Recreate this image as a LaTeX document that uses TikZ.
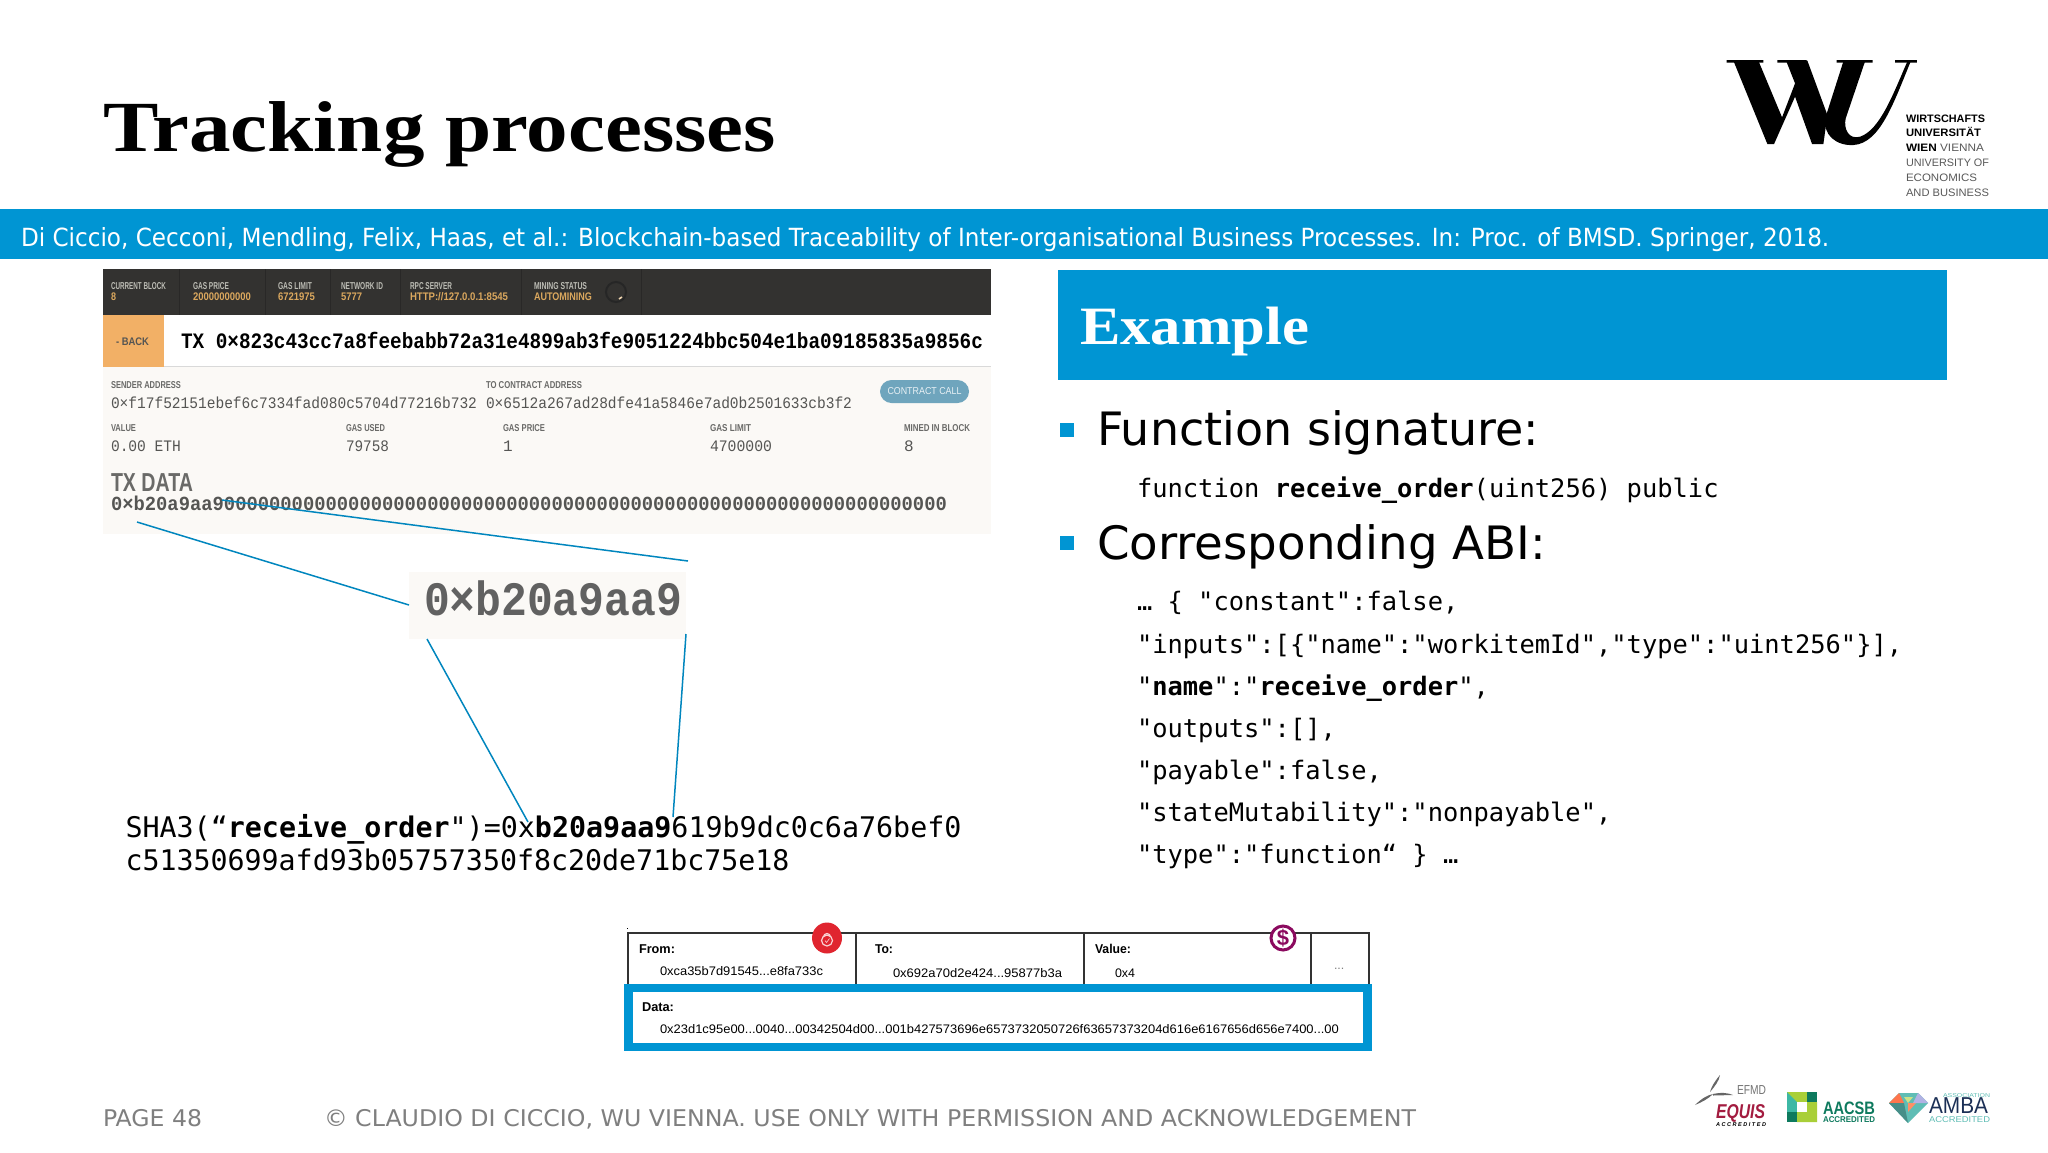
\documentclass[tikz,border=0pt]{standalone}
\usepackage{fontspec}
\usepackage{graphicx}
\setmainfont{DejaVu Sans}
\newfontfamily\serifb{Liberation Serif}
\newfontfamily\lsans{Liberation Sans}
\newfontfamily\lmono{Liberation Mono}
\newfontfamily\dmono{DejaVu Sans Mono}
\newcommand\fs[1]{\fontsize{#1pt}{#1pt}\selectfont}
\newcommand\fitw[2]{\resizebox{\dimexpr #1pt/2\relax}{\height}{#2}}
\definecolor{wublue}{HTML}{0095D3}
\definecolor{pagebg}{HTML}{FBF9F6}
\definecolor{hdr}{HTML}{333230}
\definecolor{hlab}{HTML}{BDBDB5}
\definecolor{hval}{HTML}{DBA85E}
\definecolor{backbox}{HTML}{F2B066}
\definecolor{pill}{HTML}{6FA5BD}
\definecolor{slab}{HTML}{6A6A68}
\definecolor{stxt}{HTML}{555553}
\definecolor{foot}{HTML}{7F7F7F}
\definecolor{eqred}{HTML}{A31C40}
\definecolor{badgered}{HTML}{E0252F}
\definecolor{badgepurple}{HTML}{8B0A5F}
\definecolor{aagreen}{HTML}{0E7A5E}
\definecolor{aateal}{HTML}{3DB8A5}
\definecolor{aalime}{HTML}{A9CF38}
\definecolor{ambanavy}{HTML}{1B2F55}
\definecolor{ambateal}{HTML}{5FBDB5}
\tikzset{
  txt/.style={inner sep=0pt,outer sep=0pt,anchor=base west},
  hlabel/.style={txt,text=hlab,font=\lsans\bfseries\fs{5}},
  hvalue/.style={txt,text=hval,font=\lsans\bfseries\fs{5.5}},
  slabel/.style={txt,text=slab,font=\lsans\bfseries\fs{5}},
  svalue/.style={txt,text=stxt,font=\lmono\fs{8}},
  codeline/.style={txt,text=black,font=\dmono\fs{12.71}},
  bullettext/.style={txt,text=black,font=\fs{23}},
  bulletbox/.style={fill=wublue,draw=none,inner sep=0pt,minimum size=7pt},
  cellhead/.style={txt,text=black,font=\lsans\bfseries\fs{6.4}},
  cellval/.style={txt,text=black,font=\lsans\fs{6.2}},
  logotxt/.style={txt,text=black,font=\lsans\bfseries\fs{5.4}},
  logogray/.style={txt,text=black!65,font=\lsans\fs{5.4}},
  zoomline/.style={draw=wublue!90!black,line width=0.75pt},
  foottext/.style={txt,text=foot,font=\fs{11.5}},
}
\begin{document}
\begin{tikzpicture}[x=0.5pt,y=-0.5pt]
\useasboundingbox (0,0) rectangle (2048,1152);
\fill[white] (0,0) rectangle (2048,1152);

% title and band
\node[txt] (title) at (103,151) {\fitw{673}{\serifb\bfseries\fs{36}Tracking processes}};
\fill[wublue] (0,209) rectangle (2048,259);
\node[txt,text=white] (cite) at (21,246.5) {\fitw{1808}{\fs{12.5}Di Ciccio, Cecconi, Mendling, Felix, Haas, et al.: Blockchain-based Traceability of Inter-organisational Business Processes. In: Proc. of BMSD. Springer, 2018.}};

% WU logo
\begin{scope}[shift={(1680,40)},x=0.1667pt,y=-0.1667pt]
 \fill[black] (140,60) rectangle (250,68) (292,60) rectangle (380,68) (470,60) rectangle (578,68) (645,60) rectangle (710,68);
 \fill[black] (160,62) -- (235,62) -- (306,232) -- (345,130) -- (318,62) -- (382,62) -- (442,225) -- (430,312) -- (396,312) -- (345,170) -- (282,312) -- (262,312) -- cycle;
 \fill[black] (490,64) -- (437,230) .. controls (425,285) and (470,318) .. (520,315) .. controls (600,310) and (640,190) .. (692,64) -- (682,64) .. controls (640,160) and (600,270) .. (540,290) .. controls (505,300) and (490,265) .. (497,235) -- (555,64) -- cycle;
\end{scope}
\node[logotxt] (wu1) at (1906,122) {\fitw{79}{WIRTSCHAFTS}};
\node[logotxt] (wu2) at (1906,136.5) {\fitw{75}{UNIVERSITÄT}};
\node[logotxt] (wu3) at (1906,151.5) {\fitw{78}{WIEN {\mdseries\color{black!65} VIENNA}}};
\node[logogray] (wu4) at (1906,166.5) {\fitw{83}{UNIVERSITY OF}};
\node[logogray] (wu5) at (1906,181) {\fitw{71}{ECONOMICS}};
\node[logogray] (wu6) at (1906,196) {\fitw{83}{AND BUSINESS}};

% screenshot
\fill[pagebg] (103,367) rectangle (991,534);
\fill[hdr] (103,269) rectangle (991,315);
\fill[white] (103,315) rectangle (991,367);
\fill[black!15] (103,366) rectangle (991,367);
\fill[backbox] (103,315) rectangle (164,367);
\foreach \xx in {179,265,330,400,521,641} \draw[hdr!80!black,line width=0.4pt] (\xx,269) -- (\xx,315);
\node[hlabel] (h1) at (111,289) {\fitw{55}{CURRENT BLOCK}};
\node[hvalue] (h1v) at (111,300) {\fitw{5}{8}};
\node[hlabel] (h2) at (193,289) {\fitw{36}{GAS PRICE}};
\node[hvalue] (h2v) at (193,300) {\fitw{58}{20000000000}};
\node[hlabel] (h3) at (278,289) {\fitw{34}{GAS LIMIT}};
\node[hvalue] (h3v) at (278,300) {\fitw{37}{6721975}};
\node[hlabel] (h4) at (341,289) {\fitw{42}{NETWORK ID}};
\node[hvalue] (h4v) at (341,300) {\fitw{21}{5777}};
\node[hlabel] (h5) at (410,289) {\fitw{42}{RPC SERVER}};
\node[hvalue] (h5v) at (410,300) {\fitw{98}{HTTP://127.0.0.1:8545}};
\node[hlabel] (h6) at (534,289) {\fitw{53}{MINING STATUS}};
\node[hvalue] (h6v) at (534,300) {\fitw{58}{AUTOMINING}};
\draw[black!85,line width=1pt] (616,292) circle (10);
\draw[hval!50!white,line width=0.8pt] (619,299) -- (622,297);
\node[txt,text=stxt,font=\lsans\bfseries\fs{5.5}] (back) at (116,345) {\fitw{33}{- BACK}};
\node[txt,text=black,font=\lmono\bfseries\fs{11}] (txid) at (181,348) {\fitw{802}{TX 0×823c43cc7a8feebabb72a31e4899ab3fe9051224bbc504e1ba09185835a9856c}};
\node[slabel] (s1) at (111,388) {\fitw{70}{SENDER ADDRESS}};
\node[svalue] (s1v) at (111,408) {\fitw{366}{0×f17f52151ebef6c7334fad080c5704d77216b732}};
\node[slabel] (s2) at (486,388) {\fitw{96}{TO CONTRACT ADDRESS}};
\node[svalue] (s2v) at (486,408) {\fitw{366}{0×6512a267ad28dfe41a5846e7ad0b2501633cb3f2}};
\node[draw=none,fill=pill,rounded corners=5.75pt,inner sep=0pt,minimum width=44.5pt,minimum height=11.5pt,text=white!85!pill,font=\lsans\fs{5}] (call) at (924.5,391.5) {\fitw{74}{CONTRACT CALL}};
\node[slabel] (v1) at (111,431) {\fitw{25}{VALUE}};
\node[svalue] (v1v) at (111,451) {\fitw{70}{0.00 ETH}};
\node[slabel] (v2) at (346,431) {\fitw{39}{GAS USED}};
\node[svalue] (v2v) at (346,451) {\fitw{43}{79758}};
\node[slabel] (v3) at (503,431) {\fitw{42}{GAS PRICE}};
\node[svalue] (v3v) at (503,451) {1};
\node[slabel] (v4) at (710,431) {\fitw{41}{GAS LIMIT}};
\node[svalue] (v4v) at (710,451) {\fitw{62}{4700000}};
\node[slabel] (v5) at (904,431) {\fitw{66}{MINED IN BLOCK}};
\node[svalue] (v5v) at (904,451) {8};
\node[txt,text=slab,font=\lsans\bfseries\fs{13}] (txd) at (111,491) {\fitw{82}{TX DATA}};
\node[txt,text=stxt,font=\lmono\bfseries\fs{10}] (txh) at (111,510.5) {\fitw{836}{0×b20a9aa90000000000000000000000000000000000000000000000000000000000000000}};

% zoomed selector
\fill[pagebg] (409,572) rectangle (686,639);
\node[txt,text=black!62,font=\lmono\bfseries\fs{24}] (sel) at (424,615) {\fitw{258}{0×b20a9aa9}};

% SHA line
\node[txt,text=black,font=\dmono\fs{14.2}] (sha1) at (125.5,837) {\fitw{836}{SHA3(“\textbf{receive\_order}")=0x\textbf{b20a9aa9}619b9dc0c6a76bef0}};
\node[txt,text=black,font=\dmono\fs{14.2}] (sha2) at (125.5,870) {\fitw{664}{c51350699afd93b05757350f8c20de71bc75e18}};

% connector lines
\coordinate (c1a) at (137,522); \coordinate (c1b) at (409,605);
\coordinate (c2a) at (222,500); \coordinate (c2b) at (688,561);
\coordinate (c3a) at (427,639); \coordinate (c3b) at (528,822);
\coordinate (c4a) at (686,634); \coordinate (c4b) at (673,817);
\draw[zoomline] (c1a) -- (c1b);
\draw[zoomline] (c2a) -- (c2b);
\draw[zoomline] (c3a) -- (c3b);
\draw[zoomline] (c4a) -- (c4b);

% right panel
\fill[wublue] (1058,270) rectangle (1947,380);
\node[txt,text=white] (ex) at (1080,344) {\fitw{229}{\serifb\bfseries\fs{27}Example}};
\node[bulletbox] (b1) at (1067,430) {};
\node[bullettext] (f1) at (1097,445.5) {\fitw{442}{Function signature:}};
\node[codeline] (sig) at (1137,497) {function \textbf{receive\_order}(uint256) public};
\node[bulletbox] (b2) at (1067,543) {};
\node[bullettext] (f2) at (1097,559.5) {\fitw{449}{Corresponding ABI:}};
\node[codeline] (l1) at (1137,610) {… \{ "constant":false,};
\node[codeline] (l2) at (1137,653) {"inputs":[\{"name":"workitemId","type":"uint256"\}],};
\node[codeline] (l3) at (1137,695) {"\textbf{name}":"\textbf{receive\_order}",};
\node[codeline] (l4) at (1137,737) {"outputs":[],};
\node[codeline] (l5) at (1137,779) {"payable":false,};
\node[codeline] (l6) at (1137,821) {"stateMutability":"nonpayable",};
\node[codeline] (l7) at (1137,863) {"type":"function“ \} …};

% transaction table
\draw[black!80,line width=0.7pt] (628,984) -- (628,933) -- (1369,933) -- (1369,984);
\foreach \xx in {856,1084,1311} \draw[black!80,line width=0.7pt] (\xx,933) -- (\xx,984);
\fill[black] (627,928) rectangle (628,929);
\draw[wublue,line width=4.25pt] (628.5,988) rectangle (1367.5,1047);
\node[cellhead] (from) at (639,953) {\fitw{36}{From:}};
\node[cellval] (fromv) at (660,975) {\fitw{163}{0xca35b7d91545...e8fa733c}};
\node[cellhead] (to) at (875,953) {\fitw{18}{To:}};
\node[cellval] (tov) at (893,977) {\fitw{169}{0x692a70d2e424...95877b3a}};
\node[cellhead] (val) at (1095,953) {\fitw{36}{Value:}};
\node[cellval] (valv) at (1115,977) {0x4};
\node[cellval,text=black!50] (dots) at (1334,969) {...};
\node[cellhead] (datah) at (642,1011) {\fitw{32}{Data:}};
\node[cellval] (datav) at (660,1033) {\fitw{679}{0x23d1c95e00...0040...00342504d00...001b427573696e6573732050726f63657373204d616e6167656d656e7400...00}};
% badges
\fill[badgered] (827,938) ellipse (15 and 15.5);
\draw[white!80!badgered,line width=0.6pt] (827,940.5) circle (5.5);
\draw[white!80!badgered,line width=0.6pt] (823.5,937) arc (180:360:3.5);
\draw[white!80!badgered,line width=0.3pt] (825,940.5) -- (826.5,942.5) -- (829.5,938.5);
\draw[badgepurple,line width=1.5pt,fill=white] (1283,938) circle (12);
\node[inner sep=0pt,text=badgepurple,font=\lsans\bfseries\fs{11}] (dollar) at (1283,938) {\$};

% footer
\node[foottext] (page) at (103,1126) {\fitw{99}{PAGE 48}};
\node[foottext] (copy) at (324,1126) {\fitw{1092}{© CLAUDIO DI CICCIO, WU VIENNA. USE ONLY WITH PERMISSION AND ACKNOWLEDGEMENT}};

% EQUIS
\fill[black!60] (1720,1075) .. controls (1714,1082) and (1711,1088) .. (1710,1092) .. controls (1715,1086) and (1719,1081) .. (1720,1075) -- cycle;
\fill[black!60] (1695,1105) .. controls (1702,1098) and (1708,1095) .. (1713,1094) .. controls (1708,1099) and (1702,1102) .. (1695,1105) -- cycle;
\fill[black!60] (1713,1094) .. controls (1722,1092) and (1728,1093) .. (1733,1095) -- (1713,1095.5) -- cycle;
\node[txt,text=black!55,font=\lsans\fs{6.5}] (efmd) at (1737,1094) {\fitw{29}{EFMD}};
\node[txt,text=eqred,font=\lsans\bfseries\itshape\fs{10}] (equis) at (1716,1118) {\fitw{49}{EQUIS}};
\node[txt,text=black,font=\lsans\bfseries\itshape\fs{2.8}] (eqacc) at (1716,1126) {\fitw{50}{A C C R E D I T E D}};

% AACSB
\fill[aateal] (1787,1092) rectangle (1817,1122);
\fill[aalime] (1787,1092) -- (1807,1092) -- (1807,1102) -- (1797,1102) -- cycle;
\fill[aagreen] (1807,1092) rectangle (1817,1102);
\fill[aagreen] (1787,1112) rectangle (1797,1122);
\fill[aalime] (1807,1102) -- (1817,1102) -- (1817,1122) -- (1797,1122) -- (1797,1112) -- (1807,1112) -- cycle;
\fill[white] (1797,1102) rectangle (1807,1112);
\node[txt,text=aagreen,font=\lsans\bfseries\fs{9}] (aacsb) at (1823,1114) {\fitw{52}{AACSB}};
\node[txt,text=aagreen,font=\lsans\bfseries\fs{4.2}] (aaacc) at (1823,1122) {\fitw{52}{ACCREDITED}};

% AMBA
\fill[ambateal] (1889,1103) -- (1899,1093) -- (1918,1093) -- (1928,1103) -- (1908,1123) -- cycle;
\fill[red!55!orange!70!white] (1889,1103) -- (1899,1093) -- (1904,1103) -- cycle;
\fill[black!25!ambateal] (1904,1103) -- (1908,1123) -- (1889,1103) -- cycle;
\fill[aalime!60!white] (1904,1097) -- (1913,1097) -- (1908,1103) -- cycle;
\fill[red!45!orange!60!white] (1908,1112) -- (1916,1103) -- (1908,1103) -- cycle;
\fill[black!35!blue!30!white] (1918,1093) -- (1928,1103) -- (1913,1103) -- cycle;
\node[txt,text=ambateal,font=\lsans\fs{2.8}] (ambaas) at (1943,1097) {\fitw{47}{ASSOCIATION}};
\node[txt,text=ambanavy,font=\lsans\fs{11.5}] (amba) at (1929,1113) {\fitw{59}{AMBA}};
\node[txt,text=ambateal,font=\lsans\fs{4.2}] (ambaacc) at (1929,1122) {\fitw{61}{ACCREDITED}};
\end{tikzpicture}
\end{document}
